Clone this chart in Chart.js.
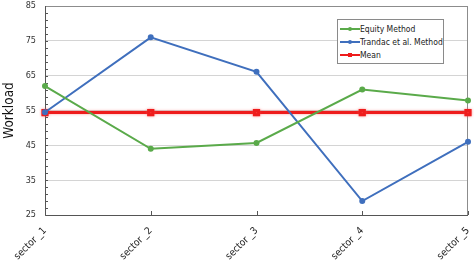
<!DOCTYPE html>
<html><head><meta charset="utf-8">
<script src="https://cdn.jsdelivr.net/npm/chart.js@4"></script>
<style>
html,body{margin:0;padding:0;background:#fff;}
#wrap{position:relative;width:474px;height:261px;}
#legend{position:absolute;left:337px;top:19px;width:107px;height:45px;border:1px solid #8a8a8a;background:#fff;font-family:"DejaVu Sans Condensed","DejaVu Sans",sans-serif;font-size:8.5px;color:#222;box-sizing:border-box;padding-top:3px;}
.li{display:flex;align-items:center;height:12.8px;}
.sw{position:relative;width:20px;height:8px;margin-left:2px;}
.sw .ln{position:absolute;left:0;right:0;top:3px;height:2px;}
.sw .mk{position:absolute;left:8px;top:2px;width:4px;height:4px;}
</style></head>
<body><div id="wrap"><canvas id="c" width="474" height="261"></canvas>
<div id="legend"></div></div>
<script>
const categories = ["sector _1","sector _2","sector _3","sector _4","sector _5"];
const equityMethod = [62, 44, 45.7, 61, 57.9];
const trandacMethod = [54.5, 76, 66.1, 29, 46];
const meanValues = [54.4, 54.4, 54.4, 54.4, 54.4];
const seriesNames = ["Equity Method","Trandac et al. Method","Mean"];
const yTickLabels = [25,35,45,55,65,75,85];

const colors = ["#5aaa4a","#3f6fbd","#ee1c1c"];

const lg = document.getElementById('legend');
seriesNames.forEach((n,i)=>{
  const d=document.createElement('div');d.className='li';
  d.innerHTML='<div class="sw"><div class="ln" style="background:'+colors[i]+'"></div><div class="mk" style="background:'+colors[i]+';'+(i<2?'border-radius:50%;':'')+'"></div></div><span>'+n+'</span>';
  lg.appendChild(d);
});

const decor = {
  id:'decor',
  beforeDatasetsDraw(chart){
    const {ctx, chartArea:a, scales:{x,y}} = chart;
    ctx.save();
    ctx.strokeStyle='#555';ctx.lineWidth=1;
    for(let v=25; v<=85; v+=2){
      const py=Math.round(y.getPixelForValue(v))+0.5;
      ctx.beginPath();ctx.moveTo(a.left,py);ctx.lineTo(a.left+3,py);ctx.stroke();
    }
    categories.forEach((c,i)=>{
      const px=Math.round(x.getPixelForValue(i))+0.5;
      ctx.beginPath();ctx.moveTo(px,a.bottom);ctx.lineTo(px,a.bottom-4);ctx.stroke();
    });
    ctx.strokeStyle='#8c8c8c';
    ctx.strokeRect(a.left+0.5,a.top+0.5,a.right-a.left-1,a.bottom-a.top);
    ctx.strokeStyle='#555';
    ctx.beginPath();ctx.moveTo(a.left+0.5,a.top);ctx.lineTo(a.left+0.5,a.bottom+0.5);ctx.lineTo(a.right,a.bottom+0.5);ctx.stroke();
    ctx.restore();
  },
  beforeDatasetDraw(chart,args){
    if(args.index===2){
      const ctx=chart.ctx;ctx.save();
      ctx.shadowColor='rgba(255,80,80,0.55)';ctx.shadowBlur=3;
    }
  },
  afterDatasetDraw(chart,args){
    if(args.index===2){chart.ctx.restore();}
  }
};

const fam='"DejaVu Sans Condensed","DejaVu Sans",sans-serif';
new Chart(document.getElementById('c'),{
  type:'line',
  data:{labels:categories,datasets:[
    {label:seriesNames[0],data:equityMethod,borderColor:colors[0],backgroundColor:colors[0],borderWidth:2,pointRadius:2,pointHoverRadius:2,tension:0},
    {label:seriesNames[1],data:trandacMethod,borderColor:colors[1],backgroundColor:colors[1],borderWidth:2,pointRadius:2,pointHoverRadius:2,tension:0},
    {label:seriesNames[2],data:meanValues,borderColor:colors[2],backgroundColor:colors[2],borderWidth:3,pointStyle:'rect',pointRadius:3,pointHoverRadius:3,tension:0}
  ]},
  options:{
    responsive:false,animation:false,
    layout:{padding:{top:4,right:2,left:0,bottom:0}},
    plugins:{legend:{display:false},tooltip:{enabled:false}},
    scales:{
      x:{offset:false,
        grid:{display:false,drawTicks:false},border:{display:false},
        ticks:{maxRotation:45,minRotation:45,padding:10,color:'#222',font:{family:fam,size:10}},
        afterFit(s){s.height=46;s.paddingLeft=0;s.paddingRight=0;s.paddingTop=0;s.paddingBottom=0;}
      },
      y:{min:25,max:85,
        afterBuildTicks(s){s.ticks=yTickLabels.map(v=>({value:v}));},
        grid:{color:'#d4d4d4',drawTicks:false},border:{display:false},
        ticks:{padding:9,color:'#333',font:{family:fam,size:9}},
        title:{display:true,text:'Workload',color:'#111',padding:{top:1,bottom:2},font:{family:fam,size:13.5}},
        afterFit(s){s.width=45;s.paddingTop=0;s.paddingBottom=0;s.paddingLeft=0;s.paddingRight=0;}
      }
    }
  },
  plugins:[decor]
});
</script></body></html>
